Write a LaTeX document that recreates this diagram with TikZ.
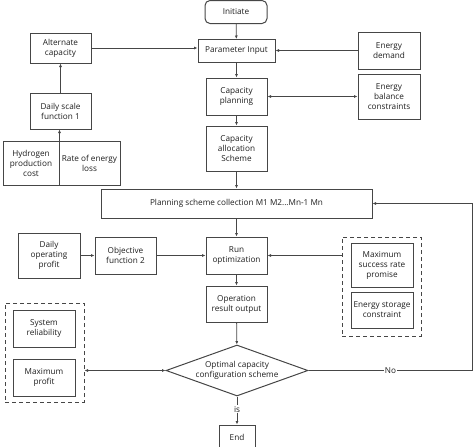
\documentclass[tikz,border=0pt]{standalone}
\usepackage{fontspec}
\setmainfont{Open Sans}
\usepackage{tikz}
\usetikzlibrary{shapes.geometric}
\usetikzlibrary{arrows.meta}

\definecolor{lncol}{RGB}{70,70,70}
\definecolor{txcol}{RGB}{30,30,30}

\tikzset{
  box/.style={draw=lncol, line width=1pt, rectangle, inner sep=0pt, align=center, text=txcol, font=\fontsize{8.2}{10}\selectfont},
  dashbox/.style={draw=lncol, line width=1pt, dash pattern={on 4pt off 3pt}, rectangle, inner sep=0pt},
  flow/.style={draw=lncol, line width=0.8pt, -{Latex[length=3.5pt,width=3pt]}},
  lbl/.style={fill=white, inner sep=1pt, text=txcol, font=\fontsize{8.2}{10}\selectfont}
}

\begin{document}
\begin{tikzpicture}[x=1pt,y=1pt,yscale=-1]
\useasboundingbox (0,0) rectangle (474,447);

%Shape: Rounded start
\node [box, rounded corners=5pt, minimum width=62, minimum height=23] (init) at (236,12) {Initiate};
%Shape: main column
\node [box, minimum width=77, minimum height=23] (param) at (236.5,51) {Parameter Input};
\node [box, minimum width=61, minimum height=37] (plan) at (236.5,96.5) {Capacity\\planning};
\node [box, minimum width=61, minimum height=45] (alloc) at (236.5,148.5) {Capacity\\allocation\\Scheme};
\node [box, minimum width=271, minimum height=29] (collect) at (236.5,203.5) {Planning scheme collection M1 M2...Mn-1 Mn};
\node [box, minimum width=61, minimum height=37] (run) at (236.5,255.5) {Run\\optimization};
\node [box, minimum width=61, minimum height=36] (out) at (236.5,304) {Operation\\result output};
\node [box, diamond, aspect=2.8, minimum width=142, minimum height=51] (dia) at (237,370.5) {Optimal capacity\\configuration scheme};
\node [box, minimum width=36, minimum height=24] (end) at (237,437) {End};

%Shape: left column
\node [box, minimum width=61, minimum height=30] (altcap) at (60.5,48) {Alternate\\capacity};
\node [box, minimum width=61, minimum height=36] (daily) at (60.5,111) {Daily scale\\function 1};
\node [box, minimum width=56, minimum height=44] (hydro) at (31,163) {Hydrogen\\production\\cost};
\node [box, minimum width=61, minimum height=44] (loss) at (89.5,163) {Rate of energy\\loss};
\node [box, minimum width=62, minimum height=45] (dop) at (49,255.5) {Daily\\operating\\profit};
\node [box, minimum width=61, minimum height=37] (obj) at (125.5,255.5) {Objective\\function 2};

%Shape: right column
\node [box, minimum width=62, minimum height=37] (demand) at (389,50.5) {Energy\\demand};
\node [box, minimum width=62, minimum height=45] (balance) at (389,96.5) {Energy\\balance\\constraints};

%Shape: dashed groups
\node [dashbox, minimum width=79, minimum height=99] (grpR) at (381.5,286.5) {};
\node [box, minimum width=62, minimum height=44] (succ) at (382,265) {Maximum\\success rate\\promise};
\node [box, minimum width=62, minimum height=36] (store) at (382,310) {Energy storage\\constraint};
\node [dashbox, minimum width=79, minimum height=99] (grpL) at (44.5,352.5) {};
\node [box, minimum width=62, minimum height=37] (rel) at (44,328.5) {System\\reliability};
\node [box, minimum width=62, minimum height=37] (maxp) at (44,377.5) {Maximum\\profit};

\coordinate (bendA) at (472.5,370.5);
\coordinate (bendB) at (472.5,203.5);

% Connectors
\draw [flow] (init) -- (param);
\draw [flow] (altcap) -- (param.west |- altcap.east);
\draw [flow] (demand) -- (param.east |- demand.west);
\draw [flow] (param) -- (plan);
\draw [flow, {Latex[length=3.5pt,width=3pt]}-{Latex[length=3.5pt,width=3pt]}] (plan) -- (balance);
\draw [flow] (plan) -- (alloc);
\draw [flow] (alloc) -- (collect);
\draw [flow] (daily) -- (altcap);
\draw [flow] (hydro.north east) -- (hydro.north east |- daily.south);
\draw [flow] (collect.south -| run.north) -- (run);
\draw [flow] (dop) -- (obj);
\draw [flow] (obj) -- (run);
\draw [flow] (run.east -| grpR.west) -- (run.east);
\draw [flow] (run) -- (out);
\draw [flow] (out) -- (dia);
\draw [flow, {Latex[length=3.5pt,width=3pt]}-{Latex[length=3.5pt,width=3pt]}] (dia.west -| grpL.east) -- (dia.west);
\draw [flow] (dia.east) -- node [lbl, pos=0.5] {No} (bendA) -- (bendB) -- (collect.east);
\draw [flow] (dia.south) -- node [lbl, pos=0.45] {is} (end);

\end{tikzpicture}
\end{document}
